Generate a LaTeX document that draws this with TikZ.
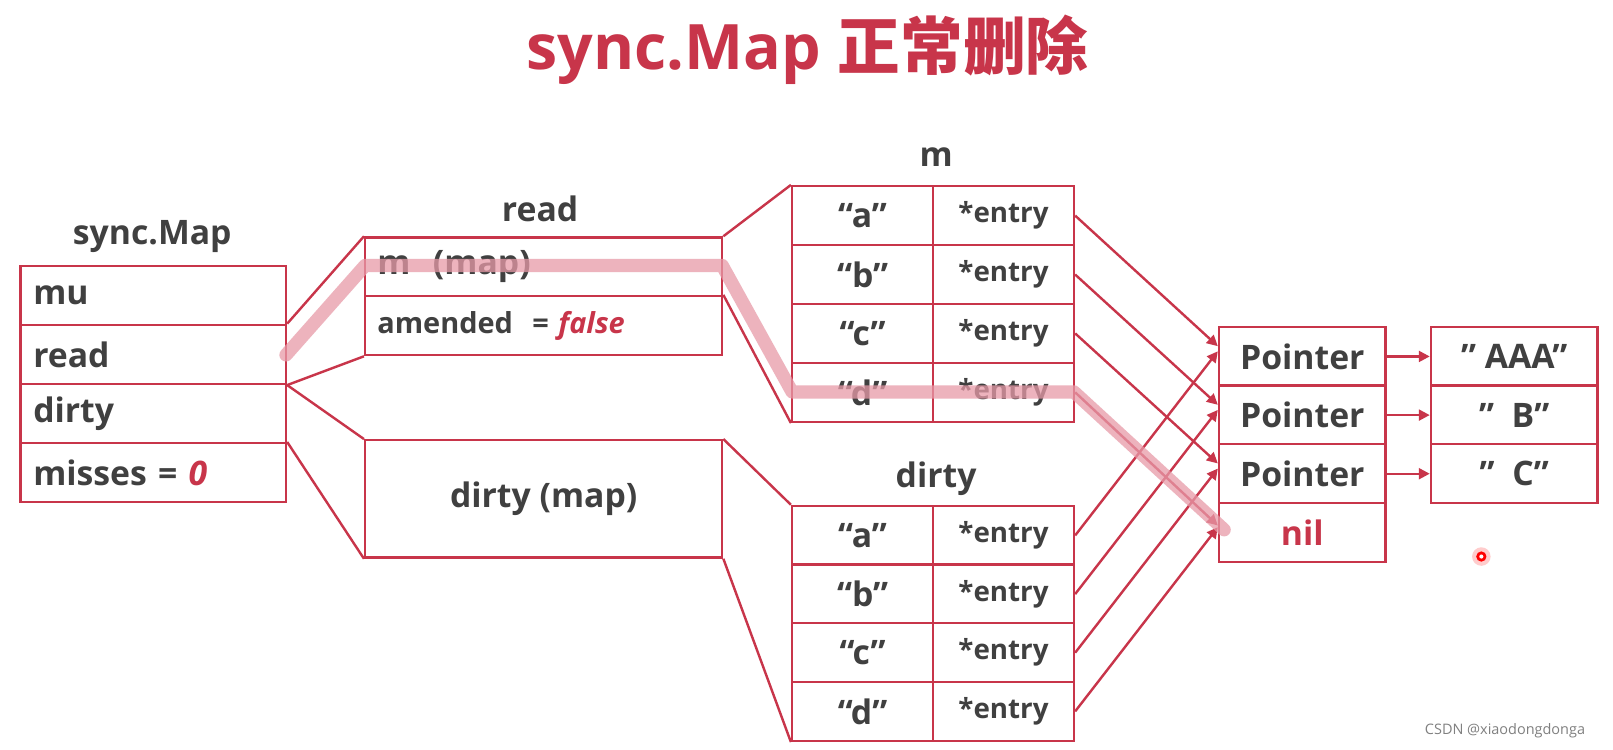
\documentclass[tikz,border=0pt]{standalone}
\usepackage{fontspec}
\setmainfont{Open Sans}
\newfontfamily\cjk{Noto Sans CJK SC}
\usetikzlibrary{arrows.meta}
\definecolor{rd}{HTML}{C8354A}
\definecolor{tx}{HTML}{404040}
\definecolor{hl}{HTML}{E79AA8}
\begin{document}
\begin{tikzpicture}[x=0.03cm,y=-0.03cm,
  cell/.style={draw=rd,line width=2pt,fill=white,inner sep=0pt,font=\fontsize{28}{30}\selectfont\bfseries,text=tx,minimum height=1.72cm},
  lcell/.style={cell,minimum width=7.74cm,text width=7.0cm,align=left},
  rcell/.style={cell,minimum width=10.41cm,text width=9.7cm,align=left},
  kcell/.style={cell,minimum width=4.11cm},
  ecell/.style={cell,minimum width=4.11cm,font=\fontsize{23}{25}\selectfont\bfseries},
  pcell/.style={cell,minimum width=4.86cm},
  hdr/.style={font=\fontsize{28}{30}\selectfont\bfseries,text=tx},
  ln/.style={draw=rd,line width=2pt},
  ar/.style={draw=rd,line width=2pt,-{Triangle[length=9pt,width=9pt]}},
  hlp/.style={draw=hl,line width=11pt,line cap=round,line join=round,opacity=0.75}]
\useasboundingbox (0,0) rectangle (1568,729);
\fill[white] (0,0) rectangle (1568,729);
\node[font=\fontsize{52}{56}\selectfont\bfseries,text=rd] (title) at (785,48) {sync.Map {\cjk\bfseries 正常删除}};
% sync.Map
\node[hdr] (hs) at (148,230) {sync.Map};
\node[lcell] (smu) at (149,287) {mu};
\node[lcell] (sread) at (149,344.5) {read};
\node[lcell] (sdirty) at (149,402) {dirty};
\node[lcell] (smiss) at (149,459.5) {misses = \textcolor{rd}{\itshape 0}};
% read
\node[hdr] (hr) at (525,203) {read};
\node[rcell] (rm) at (528.5,259.5) {m\ \ (map)};
\node[rcell,font=\fontsize{24}{26}\selectfont\bfseries] (ram) at (528.5,316.5) {amended\ \ = \textcolor{rd}{\itshape false}};
\node[cell,minimum width=10.41cm,minimum height=3.42cm] (dm) at (528.5,485) {dirty (map)};
% m table
\node[hdr] (hm) at (910,153) {m};
\foreach \k/\y in {a/209.6,b/266.9,c/324.1,d/381.4}{
  \node[kcell] (mk\k) at (838.5,\y) {“\k”};
  \node[ecell] (me\k) at (975.5,\y) {*entry};
}
\node[hdr] (hd) at (910,465) {dirty};
\foreach \k/\y in {a/520.5,b/577.5,c/634.5,d/691.5}{
  \node[kcell] (dk\k) at (838.5,\y) {“\k”};
  \node[ecell] (de\k) at (975.5,\y) {*entry};
}
% pointers
\node[pcell] (p1) at (1266,346.5) {Pointer};
\node[pcell] (p2) at (1266,403.5) {Pointer};
\node[pcell] (p3) at (1266,460.5) {Pointer};
\node[pcell,text=rd] (p4) at (1266,517.5) {nil};
\node[pcell] (v1) at (1472,346.5) {” AAA”};
\node[pcell] (v2) at (1472,403.5) {”\ \ B”};
\node[pcell] (v3) at (1472,460.5) {”\ \ C”};
% connectors
\draw[ln] (sread.north east) -- (rm.north west);
\draw[ln] (sread.south east) -- (ram.south west);
\draw[ln] (sread.south east) -- (dm.north west);
\draw[ln] (smiss.north east) -- (dm.south west);
\draw[ln] (rm.north east) -- (mka.north west);
\draw[ln] (ram.north east) -- (mkd.south west);
\draw[ln] (dm.north east) -- (dka.north west);
\draw[ln] (dm.south east) -- (dkd.south west);
\draw[ar] (mea.east) -- ([yshift=0.3cm]p1.west);
\draw[ar] (meb.east) -- ([yshift=0.3cm]p2.west);
\draw[ar] (mec.east) -- ([yshift=0.3cm]p3.west);
\draw[ar] (med.east) -- ([yshift=0.2cm]p4.west);
\draw[ar] (dea.east) -- ([yshift=0.15cm]p1.west);
\draw[ar] (deb.east) -- ([yshift=0.15cm]p2.west);
\draw[ar] (dec.east) -- ([yshift=0.15cm]p3.west);
\draw[ar] (ded.east) -- ([yshift=0.15cm]p4.west);
\draw[ar] (p1.east) -- (v1.west);
\draw[ar] (p2.east) -- (v2.west);
\draw[ar] (p3.east) -- (v3.west);
% highlight
\coordinate (h0) at (278,345);
\coordinate (h5) at (1190,515);
\draw[hlp] (h0) -- (355,258) -- (702,258) -- (770,381) -- (1044,381) -- (h5);
% dot and watermark
\fill[red!20] (1440,541) circle (9);
\fill[red] (1440,541) circle (5);
\fill[white] (1440,541) circle (2);
\node[font=\fontsize{12}{14}\selectfont,text=gray] (wm) at (1463,710) {CSDN @xiaodongdonga};
\end{tikzpicture}
\end{document}
